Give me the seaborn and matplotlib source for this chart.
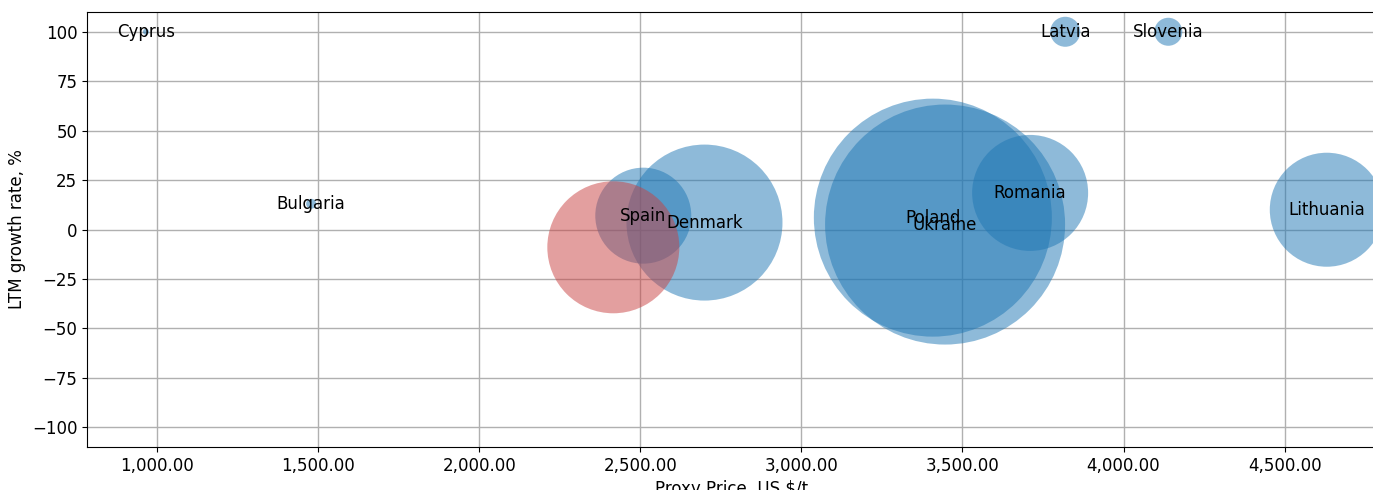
import matplotlib
matplotlib.use("Agg")
import matplotlib.pyplot as plt
from matplotlib.ticker import FuncFormatter, MultipleLocator
import seaborn as sns
import pandas as pd

# ---- data ----
countries = ["Cyprus", "Bulgaria", "Latvia", "Slovenia", "Spain", "Denmark",
             "Poland", "Ukraine", "Romania", "Lithuania", ""]
proxy_price = [965, 1478, 3819, 4139, 2509, 2699, 3408, 3446, 3710, 4631, 2416]
growth_rate = [100, 13, 100, 100, 7, 3.5, 6, 2.5, 18.5, 10, -9]
volume = [9, 25, 225, 196, 2304, 6084, 14161, 14400, 3364, 3249, 4356]
group = ["peer"] * 10 + ["focus"]

df = pd.DataFrame({"country": countries, "price": proxy_price,
                   "growth": growth_rate, "volume": volume, "group": group})

fig = plt.figure(figsize=(13.73, 4.90), dpi=100)
ax = fig.add_axes([87 / 1373, 1 - 447 / 490, (1373 - 87) / 1373 + 0.002, (447 - 12) / 490])

vmax = max(volume)
smax = 2.0736 * vmax
sns.scatterplot(data=df, x="price", y="growth", size="volume", hue="group",
                palette={"peer": "#1f77b4", "focus": "#c94141"},
                sizes=(0, smax), size_norm=(0, vmax), alpha=0.5,
                linewidth=0, legend=False, ax=ax, zorder=3)

for c, x, y in zip(countries, proxy_price, growth_rate):
    if c:
        ax.text(x, y, c, ha="center", va="center", fontsize=12, zorder=4)

ax.set_xlim(782, 4783)
ax.set_ylim(-110, 110)
ax.xaxis.set_major_locator(MultipleLocator(500))
ax.yaxis.set_major_locator(MultipleLocator(25))
ax.xaxis.set_major_formatter(FuncFormatter(lambda v, p: f"{v:,.2f}"))
ax.tick_params(labelsize=12)
ax.grid(True, color="#b0b0b0", linewidth=1, zorder=0)
ax.set_axisbelow(True)
ax.spines["right"].set_visible(False)
ax.set_xlabel("Proxy Price, US $/t", fontsize=12)
ax.set_ylabel("LTM growth rate, %", fontsize=12)

fig.savefig("out.png", dpi=100)
